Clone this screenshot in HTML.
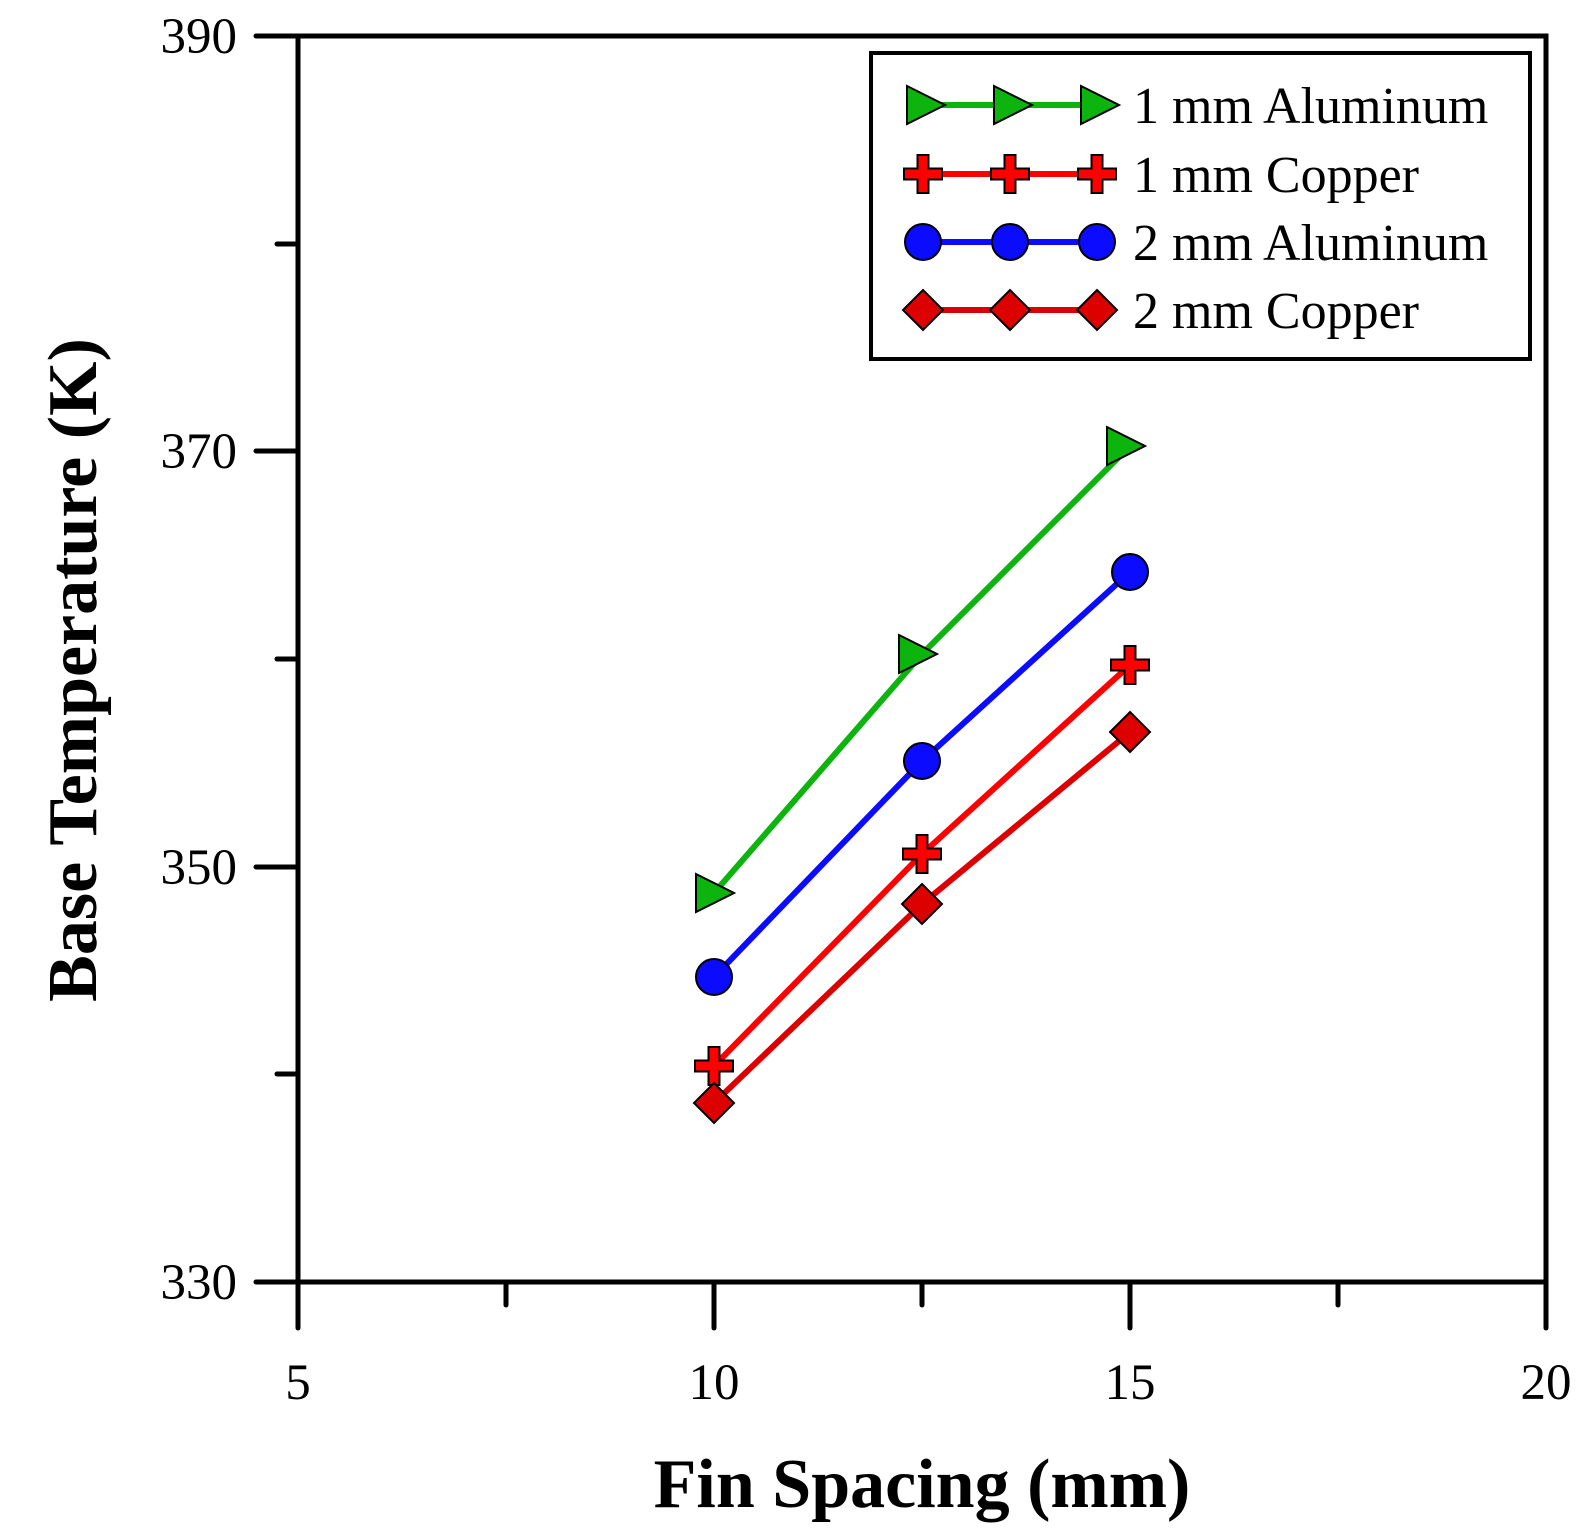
<!DOCTYPE html>
<html><head><meta charset="utf-8"><style>html,body{margin:0;padding:0;background:#fff}svg{display:block}</style></head>
<body>
<svg width="1593" height="1540" viewBox="0 0 1593 1540" xmlns="http://www.w3.org/2000/svg" font-family="'Liberation Serif', serif">
<defs>
<g id="tri"><polygon points="-18,-19 20,0 -18,19" fill="#0db40d" stroke="#000" stroke-width="2"/></g>
<g id="plus"><polygon points="-5.5,-19 5.5,-19 5.5,-5.5 19,-5.5 19,5.5 5.5,5.5 5.5,19 -5.5,19 -5.5,5.5 -19,5.5 -19,-5.5 -5.5,-5.5" fill="#ff0000" stroke="#000" stroke-width="2"/></g>
<g id="circ"><circle r="18" fill="#0b0bff" stroke="#000" stroke-width="2"/></g>
<g id="dia"><polygon points="0,-20 20,0 0,20 -20,0" fill="#dd0000" stroke="#000" stroke-width="2"/></g>
</defs>
<g stroke="#000" stroke-width="5" stroke-linecap="round">
<rect x="298" y="36" width="1248" height="1246" fill="none"/>
<line x1="256" y1="36" x2="298" y2="36"/>
<line x1="256" y1="451" x2="298" y2="451"/>
<line x1="256" y1="867" x2="298" y2="867"/>
<line x1="256" y1="1282" x2="298" y2="1282"/>
<line x1="277" y1="244" x2="298" y2="244"/>
<line x1="277" y1="659" x2="298" y2="659"/>
<line x1="277" y1="1074" x2="298" y2="1074"/>
<line x1="298" y1="1282" x2="298" y2="1328"/>
<line x1="714" y1="1282" x2="714" y2="1328"/>
<line x1="1130" y1="1282" x2="1130" y2="1328"/>
<line x1="1546" y1="1282" x2="1546" y2="1328"/>
<line x1="506" y1="1282" x2="506" y2="1305"/>
<line x1="922" y1="1282" x2="922" y2="1305"/>
<line x1="1338" y1="1282" x2="1338" y2="1305"/>
</g>
<g font-size="51" text-anchor="end">
<text x="237" y="53">390</text>
<text x="237" y="468">370</text>
<text x="237" y="884">350</text>
<text x="237" y="1299">330</text>
</g>
<g font-size="51" text-anchor="middle">
<text x="298" y="1399">5</text>
<text x="714" y="1399">10</text>
<text x="1130" y="1399">15</text>
<text x="1546" y="1399">20</text>
</g>
<text x="922" y="1507" font-size="70" font-weight="bold" text-anchor="middle">Fin Spacing (mm)</text>
<text transform="translate(96,670) rotate(-90)" font-size="70" font-weight="bold" text-anchor="middle">Base Temperature (K)</text>
<g fill="none" stroke-width="6">
<polyline stroke="#0db40d" points="714,893 922,654 1130,446"/>
<polyline stroke="#0b0bff" points="714,977 922,761 1130,572"/>
<polyline stroke="#ff0000" points="714,1066 922,854 1130,665"/>
<polyline stroke="#dd0000" points="714,1103 922,904 1130,732"/>
</g>
<use href="#tri" x="714" y="893"/><use href="#tri" x="917" y="654"/><use href="#tri" x="1125" y="446"/>
<use href="#circ" x="714" y="977"/><use href="#circ" x="922" y="761"/><use href="#circ" x="1130" y="572"/>
<use href="#plus" x="714" y="1066"/><use href="#plus" x="922" y="854"/><use href="#plus" x="1130" y="665"/>
<use href="#dia" x="714" y="1103"/><use href="#dia" x="922" y="904"/><use href="#dia" x="1130" y="732"/>
<rect x="871" y="53" width="659" height="306" fill="#fff" stroke="#000" stroke-width="4"/>
<g stroke-width="6">
<line x1="923" y1="105" x2="1097" y2="105" stroke="#0db40d"/>
<line x1="923" y1="174" x2="1097" y2="174" stroke="#ff0000"/>
<line x1="923" y1="242" x2="1097" y2="242" stroke="#0b0bff"/>
<line x1="923" y1="310" x2="1097" y2="310" stroke="#dd0000"/>
</g>
<use href="#tri" x="925" y="105"/><use href="#tri" x="1012" y="105"/><use href="#tri" x="1099" y="105"/>
<use href="#plus" x="923" y="174"/><use href="#plus" x="1010" y="174"/><use href="#plus" x="1097" y="174"/>
<use href="#circ" x="923" y="242"/><use href="#circ" x="1010" y="242"/><use href="#circ" x="1097" y="242"/>
<use href="#dia" x="923" y="310"/><use href="#dia" x="1010" y="310"/><use href="#dia" x="1097" y="310"/>
<g font-size="52">
<text x="1133" y="123">1 mm Aluminum</text>
<text x="1133" y="192">1 mm Copper</text>
<text x="1133" y="260">2 mm Aluminum</text>
<text x="1133" y="328">2 mm Copper</text>
</g>
</svg>
</body></html>
